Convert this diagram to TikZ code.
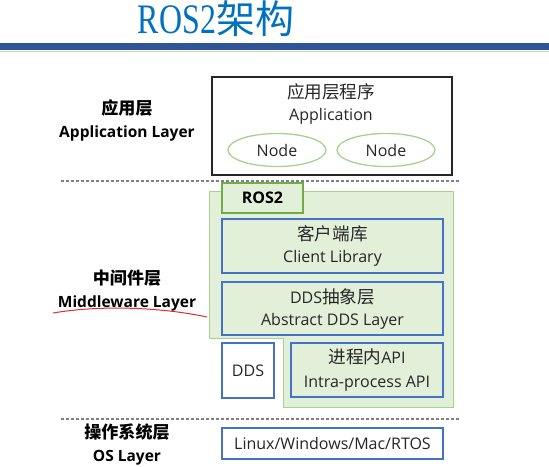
\documentclass[tikz,border=0pt]{standalone}
\usepackage{fontspec}
\setmainfont{Open Sans}
\newfontfamily\cjk{Noto Sans CJK SC}[Scale=1.1]
\newfontfamily\titlecjk{Noto Sans CJK SC}
\newfontfamily\titlelatin{Liberation Serif}[FakeStretch=0.76]
\usetikzlibrary{shapes.geometric}

\definecolor{titleblue}{RGB}{0,112,192}
\definecolor{barblue}{RGB}{47,85,151}
\definecolor{boxblue}{RGB}{68,114,196}
\definecolor{rosgreen}{RGB}{112,173,71}
\definecolor{lightgreen}{RGB}{169,209,142}
\definecolor{fillgreen}{RGB}{226,240,217}
\definecolor{txtgray}{RGB}{38,38,38}
\definecolor{markred}{RGB}{220,45,45}

\tikzset{
    boxtext/.style={align=center, text=txtgray, font=\fontsize{16}{22}\selectfont},
    layerbox/.style={boxtext, draw=boxblue, line width=1.6pt, fill=fillgreen, inner sep=0pt},
    layerlabel/.style={align=center, text=black, font=\bfseries\fontsize{15.5}{23}\selectfont},
    nodeoval/.style={boxtext, ellipse, draw=lightgreen, line width=1.3pt, inner sep=0pt,
        minimum width=98pt, minimum height=33pt},
    sepline/.style={gray, line width=1.4pt, dash pattern=on 3pt off 2pt},
}

\begin{document}
\begin{tikzpicture}[x=1pt, y=-1pt, line cap=butt]
    \useasboundingbox (0,0) rectangle (549,466);

    % title and bar
    \node[text=titleblue, inner sep=0pt] (title) at (216,19)
        {\titlelatin\fontsize{42}{42}\selectfont ROS2\titlecjk\fontsize{39}{39}\selectfont 架构};
    \fill[barblue] (0,43) rectangle (549,49.5);
    \draw[barblue!25, line width=0.8pt] (0,51.5) -- (549,51.5);

    % application layer
    \node[boxtext, draw=black!85, line width=1.3pt, minimum width=240pt, minimum height=98pt,
        inner sep=0pt] (app) at (332,126) {};
    \node[boxtext] (apptext) at (331,104) {{\cjk 应用层程序}\\Application};
    \node[nodeoval] (node1) at (277,150) {Node};
    \node[nodeoval] (node2) at (386,150) {Node};
    \node[layerlabel] (applayer) at (127,120) {{\cjk 应用层}\\Application Layer};

    \draw[sepline] (61,181) -- (460,181);

    % middleware layer
    \draw[lightgreen, line width=1pt, fill=fillgreen]
        (209,191) -- (453,191) -- (453,407) -- (283,407) -- (283,338) -- (209,338) -- cycle;
    \node[boxtext, draw=rosgreen, line width=1.8pt, fill=fillgreen, minimum width=81pt,
        minimum height=30pt, inner sep=0pt, font=\bfseries\fontsize{16}{22}\selectfont,
        text=black] (ros) at (262.5,198) {ROS2};
    \node[layerbox, minimum width=221pt, minimum height=54pt] (client) at (332.5,246)
        {{\cjk 客户端库}\\Client Library};
    \node[layerbox, minimum width=221pt, minimum height=53pt] (abstract) at (332.5,308.5)
        {DDS{\cjk 抽象层}\\Abstract DDS Layer};
    \node[layerbox, fill=white, minimum width=52pt, minimum height=55pt] (dds) at (248,370.5)
        {DDS};
    \node[layerbox, minimum width=152pt, minimum height=54pt, font=\fontsize{16}{24}\selectfont]
        (intra) at (367,370) {{\cjk 进程内}API\\Intra-process API};
    \node[layerlabel] (midlayer) at (127,291) {{\cjk 中间件层}\\Middleware Layer};
    \draw[markred, line width=1pt] (53,313) .. controls (100,305) and (160,307) .. (207,317);

    \draw[sepline] (61,419) -- (460,419);

    % os layer
    \node[layerbox, fill=white, minimum width=221pt, minimum height=31pt] (os) at (332.5,443.5)
        {Linux/Windows/Mac/RTOS};
    \node[layerlabel] (oslayer) at (127,444) {{\cjk 操作系统层}\\OS Layer};
\end{tikzpicture}
\end{document}
